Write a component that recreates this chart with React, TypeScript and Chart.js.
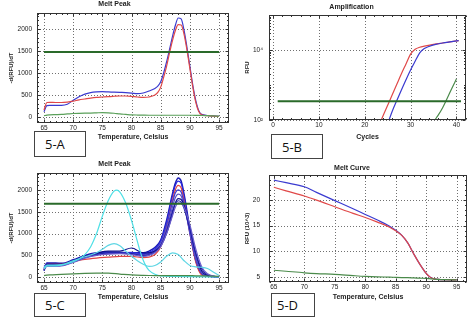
import React, { useEffect, useRef } from 'react';
import { Chart, registerables } from 'chart.js';
Chart.register(...registerables);

const FONT = '"Liberation Sans", Arial, sans-serif';

// ---------- Panel A: Melt Peak ----------
const tempA = [65, 65.5, 66, 67, 68, 69, 70, 71, 72, 73, 74, 75, 76, 77, 78, 79, 80, 81, 82, 83, 84, 84.5, 85, 85.5, 86, 86.5, 87, 87.5, 88, 88.5, 89, 89.5, 90, 90.5, 91, 91.5, 92, 93, 94, 95];
const blueA = [120, 260, 265, 265, 265, 290, 380, 460, 520, 555, 570, 575, 570, 565, 560, 555, 545, 530, 545, 590, 650, 700, 800, 1000, 1250, 1530, 1820, 2080, 2250, 2230, 1970, 1580, 1150, 720, 380, 150, 60, 35, 25, 15];
const redA = [160, 330, 335, 330, 330, 340, 360, 390, 410, 430, 445, 455, 465, 472, 478, 478, 470, 455, 445, 455, 500, 560, 680, 900, 1150, 1450, 1730, 1960, 2100, 2090, 1880, 1520, 1100, 680, 340, 130, 50, 30, 22, 12];
const greenA = [30, 45, 50, 55, 60, 70, 80, 85, 88, 90, 95, 100, 95, 85, 70, 60, 50, 45, 42, 40, 40, 40, 40, 40, 40, 40, 40, 40, 40, 40, 40, 40, 40, 40, 38, 36, 35, 30, 25, 20];
const thresholdA = 1480;

// ---------- Panel B: Amplification ----------
const cyclesRedB = [23.6, 25, 26, 27, 28, 29, 30, 31, 32, 33, 35, 37, 40.5];
const redB = [100, 263, 525, 1050, 2090, 3980, 7590, 10470, 12000, 12900, 14450, 15850, 18500];
const cyclesBlueB = [25.3, 26, 27, 28, 29, 30, 31, 32, 33, 34, 35.5, 37, 40.5];
const blueB = [100, 178, 363, 724, 1413, 2692, 4786, 8318, 10965, 12590, 14450, 15850, 18600];
const cyclesGreenB = [35.3, 36, 37, 38, 39, 40];
const greenB = [100, 135, 224, 417, 794, 1480];
const thresholdB = 343;

// ---------- Panel C: Melt Peak (many samples) ----------
const tempC = [65, 65.5, 66, 68, 70, 72, 74, 76, 78, 80, 82, 83, 84, 85, 86, 87, 87.5, 88, 88.5, 89, 90, 91, 92, 93, 95];
const navy1C = [150, 330, 330, 320, 400, 500, 560, 580, 570, 560, 560, 600, 680, 850, 1300, 1900, 2150, 2270, 2200, 1900, 1100, 400, 80, 30, 10];
const navy2C = [200, 320, 310, 300, 380, 480, 540, 560, 560, 570, 540, 570, 650, 820, 1250, 1850, 2100, 2200, 2150, 1850, 1050, 380, 70, 25, 10];
const redC = [180, 300, 300, 300, 360, 410, 440, 460, 480, 480, 450, 460, 520, 700, 1150, 1750, 2000, 2100, 2050, 1750, 1000, 350, 60, 25, 10];
const navy4C = [250, 300, 290, 290, 370, 470, 530, 560, 570, 550, 520, 550, 620, 800, 1200, 1700, 1930, 2000, 1950, 1700, 1000, 400, 90, 30, 10];
const navy5C = [220, 280, 280, 280, 360, 460, 520, 540, 550, 530, 510, 540, 600, 760, 1100, 1600, 1820, 1900, 1860, 1650, 1050, 450, 120, 40, 10];
const navy6C = [160, 300, 300, 300, 380, 480, 550, 600, 600, 670, 560, 560, 600, 720, 1000, 1450, 1700, 1800, 1780, 1650, 1150, 550, 150, 40, 10];
const navy7C = [200, 260, 260, 270, 350, 450, 520, 560, 560, 540, 500, 520, 580, 720, 1050, 1500, 1680, 1750, 1720, 1580, 1100, 550, 200, 60, 10];
const navy8C = [180, 250, 250, 260, 340, 440, 500, 530, 540, 520, 480, 500, 560, 700, 1000, 1400, 1600, 1700, 1690, 1600, 1200, 650, 250, 80, 10];
const greenC = [40, 50, 55, 65, 80, 90, 95, 95, 75, 55, 45, 42, 40, 40, 40, 40, 40, 40, 40, 40, 38, 35, 35, 30, 20];
const tempCyanBigC = [65, 65.5, 66, 68, 70, 71, 72, 73, 74, 75, 76, 77, 77.5, 78, 79, 80, 81, 81.5, 82, 82.5, 83, 84, 85, 87, 90, 95];
const cyanBigC = [200, 260, 260, 280, 360, 420, 520, 700, 1000, 1400, 1750, 1970, 1995, 1950, 1700, 1300, 820, 580, 390, 250, 160, 70, 30, 20, 15, 10];
const tempCyanMidC = [65, 65.5, 66, 68, 70, 72, 74, 75, 76, 77, 78, 79, 80, 81, 82, 83, 84, 85, 86, 87, 88, 89, 90, 91, 92, 93, 94, 95];
const cyanMidC = [220, 280, 280, 290, 380, 470, 560, 640, 730, 770, 720, 600, 480, 380, 300, 250, 270, 350, 480, 560, 520, 380, 270, 240, 230, 200, 120, 40];
const thresholdC = 1680;

// ---------- Panel D: Melt Curve ----------
const tempD = [65, 67, 70, 72, 75, 78, 80, 82, 84, 85, 86, 87, 88, 89, 90, 90.5, 91, 92, 93, 95];
const blueD = [23.9, 23.4, 22.6, 21.5, 19.9, 18.3, 17.2, 16.1, 14.9, 14.1, 13.1, 11.6, 9.4, 7.4, 5.7, 5.1, 4.7, 4.5, 4.45, 4.4];
const redD = [22.5, 21.8, 20.8, 20.0, 18.7, 17.4, 16.6, 15.7, 14.7, 14.0, 13.1, 11.6, 9.4, 7.4, 5.7, 5.1, 4.7, 4.5, 4.45, 4.4];
const greenD = [6.3, 6.1, 5.8, 5.65, 5.5, 5.25, 5.1, 5.0, 4.95, 4.9, 4.87, 4.85, 4.8, 4.75, 4.7, 4.65, 4.6, 4.5, 4.45, 4.4];

// ---------- Ticks ----------
const tempTicks = [65, 70, 75, 80, 85, 90, 95];
const peakTicks = [0, 500, 1000, 1500, 2000];
const cycleTicks = [0, 10, 20, 30, 40];
const rfuLogTicks = [100, 10000];
const rfuLogLabels = ['10²', '10⁴'];
const rfuTicksD = [5, 10, 15, 20];

const pts = (xs: number[], ys: number[]) => xs.map((x, i) => ({ x, y: ys[i] }));
const line = (xs: number[], ys: number[], color: string, width = 1.2) => ({
  data: pts(xs, ys), borderColor: color, borderWidth: width, pointRadius: 0, fill: false,
  cubicInterpolationMode: 'monotone' as const,
});
const thresh = (x0: number, x1: number, v: number) => ({
  data: [{ x: x0, y: v }, { x: x1, y: v }], borderColor: '#2a6a2a', borderWidth: 2, pointRadius: 0, fill: false,
});

const framePlugin = {
  id: 'frame',
  beforeDatasetsDraw(chart: any) {
    // dotted grid at major ticks
    const { ctx, chartArea: a, scales } = chart;
    ctx.save();
    ctx.strokeStyle = '#707070';
    ctx.lineWidth = 1;
    ctx.setLineDash([1, 2]);
    ctx.beginPath();
    for (const t of scales.x.ticks) {
      const px = Math.round(scales.x.getPixelForValue(t.value)) + 0.5;
      ctx.moveTo(px, a.top); ctx.lineTo(px, a.bottom);
    }
    for (const t of scales.y.ticks) {
      const py = Math.round(scales.y.getPixelForValue(t.value)) + 0.5;
      ctx.moveTo(a.left, py); ctx.lineTo(a.right, py);
    }
    ctx.stroke();
    ctx.restore();
  },
  afterDraw(chart: any, _args: any, opts: any) {
    const { ctx, chartArea: a, scales } = chart;
    const xs = scales.x, ys = scales.y;
    ctx.save();
    ctx.strokeStyle = '#333';
    ctx.lineWidth = 1;
    const L = Math.round(a.left) + 0.5, R = Math.round(a.right) - 0.5;
    const T = Math.round(a.top) + 0.5, B = Math.round(a.bottom) - 0.5;
    ctx.strokeRect(L, T, R - L, B - T);
    ctx.beginPath();
    const xMajor = new Set(xs.ticks.map((t: any) => t.value));
    for (let v = Math.ceil(xs.min / opts.xStep) * opts.xStep; v <= xs.max; v += opts.xStep) {
      const px = Math.round(xs.getPixelForValue(v)) + 0.5;
      const len = xMajor.has(v) ? 3 : 1.5;
      ctx.moveTo(px, B); ctx.lineTo(px, B - len);
      ctx.moveTo(px, T); ctx.lineTo(px, T + len);
    }
    const yVals: number[] = [];
    if (opts.yLog) {
      for (let d = 100; d < ys.max; d *= 10) for (let m = 1; m < 10; m++) yVals.push(m * d);
    } else {
      for (let v = Math.ceil(ys.min / opts.yStep) * opts.yStep; v <= ys.max; v += opts.yStep) yVals.push(v);
    }
    const yMajor = new Set(ys.ticks.map((t: any) => t.value));
    for (const v of yVals) {
      const py = Math.round(ys.getPixelForValue(v)) + 0.5;
      const len = yMajor.has(v) ? 3 : 1.5;
      ctx.moveTo(L, py); ctx.lineTo(L + len, py);
      ctx.moveTo(R, py); ctx.lineTo(R - len, py);
    }
    ctx.stroke();
    ctx.restore();
  },
};

type Panel = {
  width: number; height: number;
  area: { l: number; r: number; t: number; b: number };
  title: string; titleY: number;
  xTitle: string; xTitleY: number;
  yTitle: string; yTitleX: number;
  xMin: number; xMax: number; yMin: number; yMax: number; yLog?: boolean;
  xTicks: number[]; yTicks: number[]; yLabels?: string[]; yPad: number;
  xStep: number; yStep?: number;
  datasets: any[];
};

function makeConfig(p: Panel): any {
  const tickFont = { family: FONT, size: 6.5 };
  const titlePadTop = p.titleY - 4.2;
  return {
    type: 'line',
    data: { datasets: p.datasets },
    options: {
      animation: false, responsive: false, maintainAspectRatio: false, devicePixelRatio: 1,
      layout: { padding: { left: 0, top: 0, right: p.width - p.area.r, bottom: 0 } },
      plugins: {
        legend: { display: false }, tooltip: { enabled: false },
        title: {
          display: true, text: p.title, color: '#222',
          font: { family: FONT, size: 7, weight: 'bold', lineHeight: 1.2 },
          padding: { top: titlePadTop, bottom: p.area.t - 8.4 - titlePadTop },
        },
        frame: { xStep: p.xStep, yStep: p.yStep, yLog: p.yLog },
      },
      scales: {
        x: {
          type: 'linear', min: p.xMin, max: p.xMax,
          afterFit: (s: any) => { s.height = p.height - p.area.b; },
          afterBuildTicks: (s: any) => { s.ticks = p.xTicks.map((v) => ({ value: v })); },
          grid: { display: false, drawTicks: false },
          border: { display: false },
          ticks: { font: tickFont, color: '#222', padding: 1, maxRotation: 0, autoSkip: false },
          title: {
            display: true, text: p.xTitle, color: '#222',
            font: { family: FONT, size: 7, weight: 'bold', lineHeight: 1.2 },
            padding: { top: 0, bottom: p.height - p.xTitleY - 4.2 },
          },
        },
        y: {
          type: p.yLog ? 'logarithmic' : 'linear', min: p.yMin, max: p.yMax,
          afterFit: (s: any) => { s.width = p.area.l; },
          afterBuildTicks: (s: any) => { s.ticks = p.yTicks.map((v) => ({ value: v })); },
          grid: { display: false, drawTicks: false },
          border: { display: false },
          ticks: {
            font: tickFont, color: '#222', padding: p.yPad, autoSkip: false,
            callback: (v: any) => {
              const i = p.yTicks.indexOf(Number(v));
              return p.yLabels && i >= 0 ? p.yLabels[i] : String(v);
            },
          },
          title: {
            display: true, text: p.yTitle, color: '#222',
            font: { family: FONT, size: 6, weight: 'bold', lineHeight: 1.2 },
            padding: { top: p.yTitleX - 3.6, bottom: 0 },
          },
        },
      },
    },
    plugins: [framePlugin],
  };
}

const panelA: Panel = {
  width: 237, height: 160, area: { l: 37, r: 229, t: 13, b: 123 },
  title: 'Melt Peak', titleY: 4.5, xTitle: 'Temperature, Celsius', xTitleY: 137,
  yTitle: '-d(RFU)/dT', yTitleX: 11.5,
  xMin: 63.8, xMax: 96.7, yMin: -136, yMax: 2364, xTicks: tempTicks, yTicks: peakTicks, yPad: 5,
  xStep: 1, yStep: 100,
  datasets: [
    thresh(65, 95, thresholdA),
    line(tempA, greenA, '#5aa05a'),
    line(tempA, redA, '#e04848'),
    line(tempA, blueA, '#3a3ad0'),
  ],
};

const panelB: Panel = {
  width: 237, height: 160, area: { l: 32, r: 229, t: 15, b: 120 },
  title: 'Amplification', titleY: 6.7, xTitle: 'Cycles', xTitleY: 137,
  yTitle: 'RFU', yTitleX: 10,
  xMin: -0.9, xMax: 42.1, yMin: 100, yMax: 100000, yLog: true,
  xTicks: cycleTicks, yTicks: rfuLogTicks, yLabels: rfuLogLabels, yPad: 6,
  xStep: 2,
  datasets: [
    thresh(1, 41, thresholdB),
    line(cyclesGreenB, greenB, '#4a8a4a'),
    line(cyclesBlueB, blueB, '#3a3ad0'),
    line(cyclesRedB, redB, '#e04848'),
  ],
};

const panelC: Panel = {
  width: 237, height: 169, area: { l: 37, r: 229, t: 13, b: 123 },
  title: 'Melt Peak', titleY: 4.5, xTitle: 'Temperature, Celsius', xTitleY: 137.3,
  yTitle: '-d(RFU)/dT', yTitleX: 11.5,
  xMin: 63.8, xMax: 96.7, yMin: -130, yMax: 2385, xTicks: tempTicks, yTicks: peakTicks, yPad: 5,
  xStep: 1, yStep: 100,
  datasets: [
    thresh(65, 95, thresholdC),
    line(tempC, greenC, '#4a8a4a'),
    line(tempCyanBigC, cyanBigC, '#4fe0e6'),
    line(tempCyanMidC, cyanMidC, '#5fd6e4'),
    line(tempC, navy8C, '#6a5ccc'),
    line(tempC, navy7C, '#2020a8'),
    line(tempC, navy6C, '#10108c'),
    line(tempC, navy5C, '#5a50c8'),
    line(tempC, navy4C, '#3c3cd2'),
    line(tempC, redC, '#e04545'),
    line(tempC, navy2C, '#2828e0'),
    line(tempC, navy1C, '#1a1ab4', 1.5),
  ],
};

const panelD: Panel = {
  width: 237, height: 169, area: { l: 32, r: 230, t: 15, b: 122 },
  title: 'Melt Curve', titleY: 8.3, xTitle: 'Temperature, Celsius', xTitleY: 136.7,
  yTitle: 'RFU (10^3)', yTitleX: 10,
  xMin: 64.2, xMax: 96.7, yMin: 4, yMax: 24.9, xTicks: tempTicks, yTicks: rfuTicksD, yPad: 9,
  xStep: 1, yStep: 1,
  datasets: [
    line(tempD, greenD, '#4a8a4a'),
    line(tempD, redD, '#e04848'),
    line(tempD, blueD, '#3a3ad0'),
  ],
};

function ChartPanel({ p, left, top }: { p: Panel; left: number; top: number }) {
  const ref = useRef<HTMLCanvasElement>(null);
  useEffect(() => {
    if (!ref.current) return;
    const c = new Chart(ref.current, makeConfig(p));
    return () => c.destroy();
  }, [p]);
  return (
    <canvas ref={ref} width={p.width} height={p.height}
      style={{ position: 'absolute', left, top, width: p.width, height: p.height }} />
  );
}

function Label({ text, left, top, width, height, padLeft }: { text: string; left: number; top: number; width: number; height: number; padLeft: number }) {
  return (
    <div style={{
      position: 'absolute', left, top, width, height, boxSizing: 'border-box',
      border: '1px solid #444', background: '#fff', display: 'flex', alignItems: 'center',
      paddingLeft: padLeft, fontFamily: '"Open Sans", "Noto Sans", sans-serif', fontSize: 13, color: '#111',
    }}>{text}</div>
  );
}

export default function App() {
  return (
    <div style={{ position: 'fixed', left: 0, top: 0, width: 474, height: 329, background: '#fff', overflow: 'hidden' }}>
      <ChartPanel p={panelA} left={0} top={0} />
      <ChartPanel p={panelB} left={237} top={0} />
      <ChartPanel p={panelC} left={0} top={160} />
      <ChartPanel p={panelD} left={237} top={160} />
      <Label text="5-A" left={34} top={131} width={52} height={26} padLeft={10} />
      <Label text="5-B" left={271} top={134} width={52} height={25} padLeft={10} />
      <Label text="5-C" left={34} top={293} width={52} height={24} padLeft={10} />
      <Label text="5-D" left={271} top={293} width={44} height={24} padLeft={5} />
    </div>
  );
}
